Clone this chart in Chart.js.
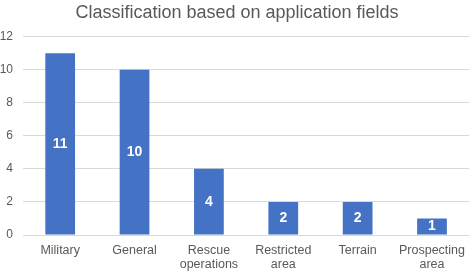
<!DOCTYPE html>
<html>
<head>
<meta charset="utf-8">
<script src="https://cdn.jsdelivr.net/npm/chart.js@4/dist/chart.umd.min.js"></script>
<style>
  html, body { margin: 0; padding: 0; background: #fff; }
  #wrap { width: 474px; height: 273px; }
</style>
</head>
<body>
<div id="wrap"><canvas id="myChart"></canvas></div>
<script>
// dados do gráfico
const categories = ['Military', 'General', ['Rescue', 'operations'], ['Restricted', 'area'], 'Terrain', ['Prospecting', 'area']];
const counts = [11, 10, 4, 2, 2, 1];
const yTicks = [0, 2, 4, 6, 8, 10, 12];

const textColor = '#595959';
const fontFamily = '"Liberation Sans", Arial, sans-serif';

// rótulos brancos dentro das barras
const barLabels = {
  id: 'barLabels',
  afterDatasetsDraw(chart) {
    const ctx = chart.ctx;
    const meta = chart.getDatasetMeta(0);
    ctx.save();
    ctx.fillStyle = '#ffffff';
    ctx.font = 'bold 14px ' + fontFamily;
    ctx.textAlign = 'center';
    ctx.textBaseline = 'middle';
    meta.data.forEach((bar, i) => {
      const y = (bar.y + bar.base) / 2;
      ctx.fillText(String(counts[i]), bar.x, y);
    });
    ctx.restore();
  }
};

const ctx = document.getElementById('myChart');
new Chart(ctx, {
  type: 'bar',
  data: {
    labels: categories,
    datasets: [{
      label: 'Count',
      data: counts,
      backgroundColor: '#4472C4',
      barPercentage: 0.4,
      categoryPercentage: 1.0
    }]
  },
  options: {
    responsive: true,
    maintainAspectRatio: false,
    animation: false,
    layout: { padding: { left: 0, right: 0, top: 0, bottom: 0 } },
    plugins: {
      legend: { display: false },
      tooltip: { enabled: false },
      title: {
        display: true,
        text: 'Classification based on application fields',
        color: textColor,
        font: { family: fontFamily, size: 18, weight: 'normal' },
        padding: { top: 2, bottom: 13 }
      }
    },
    scales: {
      x: {
        grid: { display: false, drawTicks: false },
        border: { display: false },
        ticks: {
          color: textColor,
          font: { family: fontFamily, size: 12.5, lineHeight: 1.12 },
          maxRotation: 0,
          autoSkip: false,
          padding: 9
        },
        afterFit(axis) { axis.height = 38; }
      },
      y: {
        min: 0,
        max: 12,
        afterBuildTicks(axis) {
          axis.ticks = yTicks.map(v => ({ value: v }));
        },
        grid: { color: '#d9d9d9', drawTicks: false },
        border: { display: false },
        ticks: {
          color: textColor,
          font: { family: fontFamily, size: 12 },
          padding: 10
        },
        afterFit(axis) { axis.width = 23; }
      }
    }
  },
  plugins: [barLabels]
});
</script>
</body>
</html>
